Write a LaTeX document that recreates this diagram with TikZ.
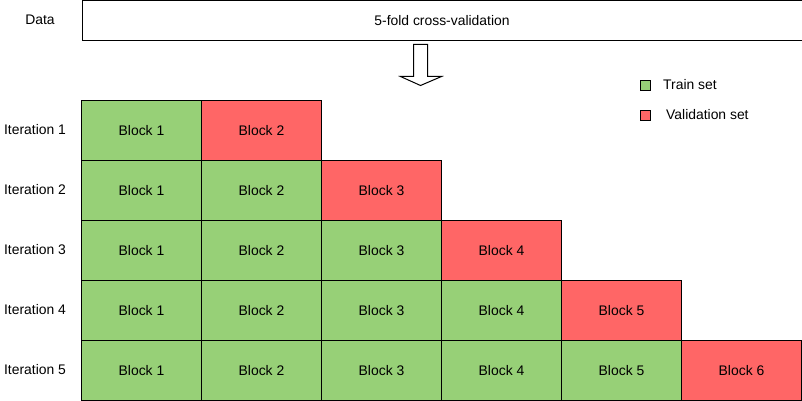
\documentclass[tikz,border=0pt]{standalone}
\usepackage{fontspec}
\setmainfont{Liberation Sans}
\definecolor{trainc}{HTML}{97D077}
\definecolor{valc}{HTML}{FF6666}
\begin{document}
\begin{tikzpicture}[x=1pt,y=-1pt,font=\fontsize{13.9}{16}\selectfont,
  blk/.style={draw=black,line width=1pt,minimum width=120pt,minimum height=60pt,inner sep=0pt,outer sep=0pt,anchor=north west},
  trainblk/.style={blk,fill=trainc},
  valblk/.style={blk,fill=valc},
  lbl/.style={inner sep=0pt},
  legsq/.style={draw=black,line width=1pt,minimum size=10pt,inner sep=0pt}]
\useasboundingbox (0,0) rectangle (802,401);
\node[draw=black,line width=1pt,minimum width=720pt,minimum height=40pt,inner sep=0pt,anchor=north west] (data) at (81.5,0.5) {5-fold cross-validation};
\node[lbl] (datalbl) at (40,20) {Data};
\draw[line width=1pt,fill=white] (413.5,44.5) -- (427.5,44.5) -- (427.5,76.5) -- (441.5,76.5) -- (420.5,85.5) -- (400.5,76.5) -- (413.5,76.5) -- cycle;
\foreach \r in {1,...,5} {
  \node[lbl] (it\r) at (35,{130+60*(\r-1)}) {Iteration \r};
  \foreach \c in {1,...,\r} {
    \node[trainblk] (b\r\c) at ({81.5+120*(\c-1)},{100.5+60*(\r-1)}) {Block \c};
  }
  \pgfmathtruncatemacro\v{\r+1}
  \node[valblk] (b\r\v) at ({81.5+120*\r},{100.5+60*(\r-1)}) {Block \v};
}
\node[legsq,fill=trainc] (lt) at (645.5,85.5) {};
\node[lbl,anchor=west] (ltt) at (663,85) {Train set};
\node[legsq,fill=valc] (lv) at (645.5,115.5) {};
\node[lbl,anchor=west] (lvt) at (666,115) {Validation set};
\end{tikzpicture}
\end{document}
